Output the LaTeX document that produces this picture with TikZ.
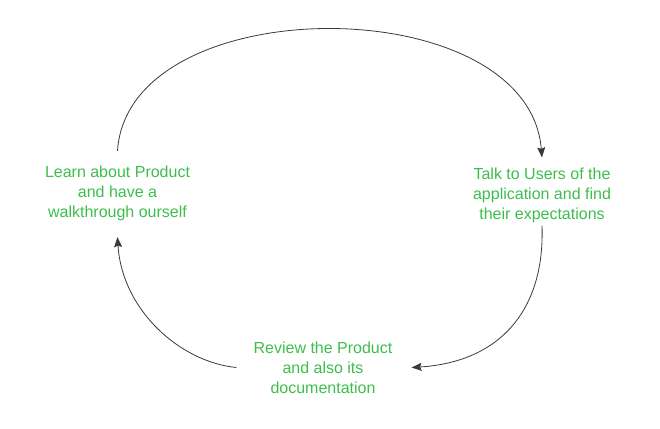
\documentclass[tikz,border=0pt]{standalone}
\usepackage{fontspec}
\setmainfont{Liberation Sans}
\usetikzlibrary{arrows.meta}
\definecolor{stepgreen}{RGB}{61,190,76}
\definecolor{arcgray}{RGB}{55,58,66}
\tikzset{
  stepnode/.style={align=center, inner sep=0pt, text=stepgreen,
    font=\fontsize{16}{20}\selectfont},
  cycle/.style={draw=arcgray, line width=0.8pt,
    -{Stealth[length=10pt,width=8pt,inset=1.5pt]}}
}
\begin{document}
\begin{tikzpicture}[x=1pt,y=-1pt]
% Frame
\useasboundingbox (0,0) rectangle (660,428);

% Steps
\node[stepnode] (learn) at (117.5,193.5) {Learn about Product\\and have a\\walkthrough ourself};
\node[stepnode] (talk) at (542,195) {Talk to Users of the\\application and find\\their expectations};
\node[stepnode] (review) at (323,367.5) {Review the Product\\and also its\\documentation};

% Cycle arcs
\draw[cycle] ([yshift=15pt]learn.north) .. controls (128,-12) and (528,-12) .. ([yshift=10pt]talk.north);
\draw[cycle] ([yshift=-3pt]talk.south) .. controls (545,310) and (500,362) .. ([xshift=19pt]review.east);
\draw[cycle] ([xshift=-17pt]review.west) .. controls (180,362) and (122,310) .. ([yshift=-16pt]learn.south);
\end{tikzpicture}
\end{document}
